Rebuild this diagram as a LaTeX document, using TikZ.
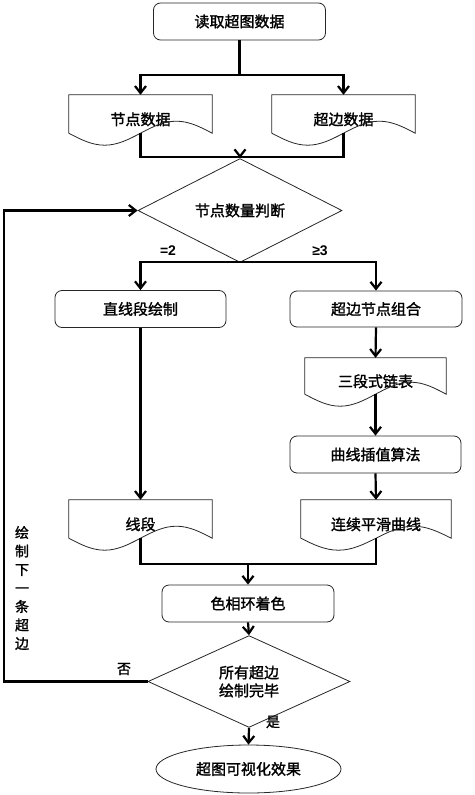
\documentclass[tikz,border=0pt]{standalone}
\usepackage{fontspec}
\newfontfamily\cjk[FakeBold=1.5]{Noto Sans CJK SC}
\newfontfamily\lab{Liberation Sans}
\usepackage{tikz}
\usetikzlibrary{shapes.geometric,arrows.meta,calc}
\tikzset{outline/.style={draw=black!85,line width=0.8pt},
        txt/.style={font=\cjk\fontsize{15}{18}\selectfont},
        proc/.style={outline,txt,rounded corners=7pt,minimum width=172pt,minimum height=37pt,inner sep=2pt},
        doc/.style={txt,minimum width=143pt,minimum height=38pt,inner sep=0pt,text height=24pt,text depth=2pt},
        choice/.style={outline,txt,diamond,inner sep=0pt,align=center},
        wire/.style={line width=2.2pt},
        conn/.style={wire,-{Straight Barb[length=7pt,width=11pt]}}}

\begin{document}
\begin{tikzpicture}[x=1pt,y=1pt]
  \useasboundingbox (0,0) rectangle (474,-795);
  % boxes
  \node[proc] (start) at (239.5,-21.5) {读取超图数据};
  \node[doc] (nd) at (140.5,-114) {节点数据};
  \node[doc] (ed) at (343.5,-114) {超边数据};
  \node[choice,minimum width=204pt,minimum height=62pt] (judge) at (240,-210.5) {节点数量判断};
  \node[proc,minimum width=171pt] (seg2) at (140.5,-309) {直线段绘制};
  \node[proc,minimum height=36pt] (comb) at (376,-309) {超边节点组合};
  \node[doc,minimum width=141pt,minimum height=36pt] (chain) at (375.5,-376) {三段式链表};
  \node[proc,minimum width=171pt] (interp) at (375.5,-454.5) {曲线插值算法};
  \node[doc,minimum width=150pt] (smooth) at (376,-519) {连续平滑曲线};
  \node[doc] (seg) at (140.5,-519) {线段};
  \node[proc] (color) at (248,-603.5) {色相环着色};
  \node[choice,minimum width=202pt,minimum height=61pt] (done) at (249,-681.5) {所有超边\\绘制完毕};
  \node[outline,txt,ellipse,minimum width=185pt,minimum height=48pt,inner sep=0pt] (result) at (248.5,-769) {超图可视化效果};
  % document outlines with wavy bottom
  \foreach \d in {nd,ed,chain,smooth,seg}{
    \draw[outline] (\d.south west) -- (\d.north west) -- (\d.north east) -- (\d.south east)
      sin ($(\d.south east)!0.25!(\d.south west)+(0,12)$)
      cos (\d.south)
      sin ($(\d.south east)!0.75!(\d.south west)+(0,-12)$)
      cos (\d.south west);
  }
  % connectors
  \coordinate (fork1) at (239.5,-75);
  \coordinate (join1) at (240,-157);
  \coordinate (fork2) at (240,-262);
  \coordinate (join2) at (248,-564);
  \coordinate (back) at (4,-446);
  \draw[wire] (start.south) -- (fork1);
  \draw[conn] (fork1) -| (nd.north);
  \draw[conn] (fork1) -| (ed.north);
  \draw[wire] (nd.south) |- (join1);
  \draw[wire] (ed.south) |- (join1);
  \draw[conn] (join1) -- (judge.north);
  \draw[wire] (judge.south) -- (fork2);
  \draw[conn] (fork2) -| (seg2.north);
  \draw[conn] (fork2) -| (comb.north);
  \draw[conn] (seg2.south) -- (seg.north);
  \draw[conn] (comb.south) -- (chain.north);
  \draw[conn] (chain.south) -- (interp.north);
  \draw[conn] (interp.south) -- (smooth.north);
  \draw[wire] (seg.south) |- (join2);
  \draw[wire] (smooth.south) |- (join2);
  \draw[conn] (join2) -- (color.north);
  \draw[conn] (color.south) -- (done.north);
  \draw[conn] (done.south) -- (result.north);
  \draw[conn] (done.west) -| (back) |- (judge.west);
  % labels
  \node[font=\lab\bfseries\fontsize{14}{16}\selectfont] (eq2) at (168,-251) {=2};
  \node[font=\lab\bfseries\fontsize{14}{16}\selectfont] (ge3) at (320,-251) {≥3};
  \node[font=\cjk\fontsize{14}{16}\selectfont] (no) at (124,-669) {否};
  \node[font=\cjk\fontsize{14}{16}\selectfont] (yes) at (273,-722) {是};
  \node[font=\cjk\fontsize{14}{18.5}\selectfont,align=center] (next) at (22,-588) {绘\\制\\下\\一\\条\\超\\边};
\end{tikzpicture}
\end{document}
